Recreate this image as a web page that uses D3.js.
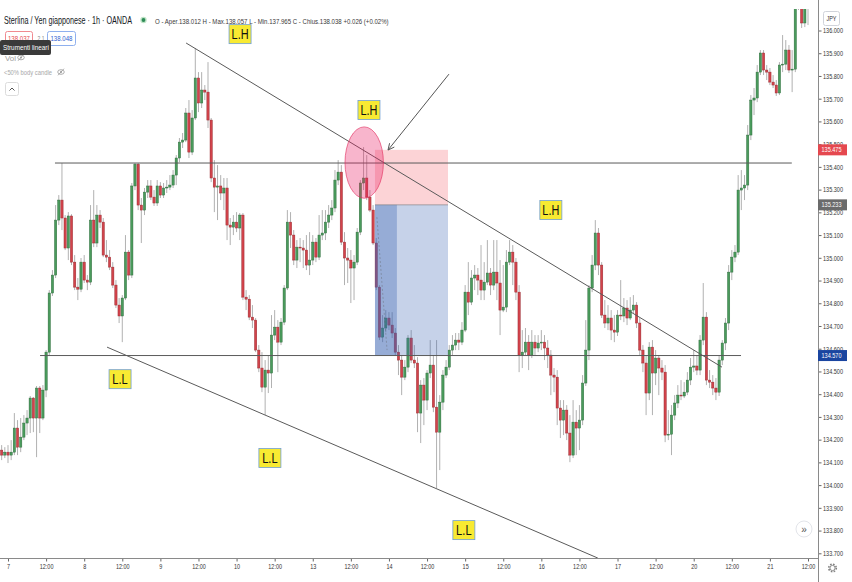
<!DOCTYPE html>
<html><head><meta charset="utf-8">
<script src="https://cdn.jsdelivr.net/npm/d3@7"></script>
<style>
html,body{margin:0;padding:0;background:#fff;}
svg{display:block;}
</style></head><body>
<svg id="c" width="852" height="582"></svg>
<script>
// ---------------- DATA (GBP/JPY 1h, [open, high, low, close]) ----------------
const firstIndex = -2; // first bar = day 6, 22:00
const day06 = [[134.154,134.176,134.110,134.132],[134.132,134.167,134.119,134.145]];
const day07 = [
[134.145,134.176,134.097,134.132],[134.132,134.198,134.110,134.145],[134.145,134.317,134.132,134.251],[134.251,134.286,134.132,134.167],
[134.167,134.295,134.145,134.211],[134.211,134.308,134.198,134.273],[134.273,134.330,134.220,134.295],[134.295,134.392,134.229,134.383],
[134.383,134.387,134.233,134.295],[134.295,134.436,134.123,134.427],[134.427,134.436,134.229,134.295],[134.295,134.440,134.286,134.418],
[134.418,134.594,134.387,134.585],[134.585,134.858,134.572,134.845],[134.845,134.946,134.832,134.924],[134.924,135.232,134.911,135.166],
[135.166,135.276,135.144,135.254],[135.254,135.417,135.122,135.175],[135.175,135.188,135.034,135.043],[135.043,135.201,134.990,135.184],
[135.184,135.192,134.968,134.981],[134.981,135.012,134.858,134.871],[134.871,134.911,134.814,134.862],[134.862,134.999,134.849,134.981]];
const day08 = [
[134.981,135.012,134.889,134.902],[134.902,134.924,134.858,134.893],[134.893,135.232,134.880,135.166],[135.166,135.298,135.047,135.065],
[135.065,135.232,135.047,135.188],[135.188,135.210,135.131,135.157],[135.157,135.175,135.003,135.012],[135.012,135.078,134.981,135.003],
[135.003,135.034,134.946,134.959],[134.959,134.981,134.867,134.880],[134.880,134.902,134.779,134.792],[134.792,134.823,134.713,134.744],
[134.744,134.836,134.629,134.823],[134.823,135.100,134.814,135.025],[135.025,135.034,134.902,134.924],[134.924,135.329,134.911,135.316],
[135.316,135.417,135.298,135.412],[135.412,135.417,135.210,135.232],[135.232,135.263,135.065,135.210],[135.210,135.307,135.188,135.289],
[135.289,135.342,135.263,135.316],[135.316,135.342,135.254,135.267],[135.267,135.298,135.228,135.241],[135.241,135.342,135.228,135.316]];
const day09 = [
[135.316,135.333,135.263,135.276],[135.276,135.329,135.263,135.307],[135.307,135.342,135.285,135.311],[135.311,135.364,135.298,135.320],
[135.320,135.386,135.307,135.364],[135.364,135.452,135.320,135.439],[135.439,135.527,135.421,135.509],[135.509,135.549,135.483,135.518],
[135.518,135.659,135.509,135.637],[135.637,135.694,135.439,135.465],[135.465,135.650,135.452,135.615],[135.615,135.923,135.606,135.791],
[135.791,135.817,135.641,135.681],[135.681,135.817,135.659,135.738],[135.738,135.760,135.694,135.729],[135.729,135.861,135.571,135.606],
[135.606,135.615,135.333,135.351],[135.351,135.430,135.201,135.311],[135.311,135.408,135.166,135.316],[135.316,135.364,135.254,135.285],
[135.285,135.351,135.210,135.307],[135.307,135.351,135.078,135.144],[135.144,135.175,135.056,135.135],[135.135,135.188,135.100,135.157]];
const day10 = [
[135.157,135.201,135.113,135.131],[135.131,135.197,135.078,135.188],[135.188,135.197,134.814,134.827],[134.827,134.858,134.770,134.818],
[134.818,134.836,134.726,134.739],[134.739,134.792,134.691,134.726],[134.726,134.735,134.585,134.594],[134.594,134.616,134.497,134.515],
[134.515,134.585,134.409,134.431],[134.431,134.550,134.308,134.506],[134.506,134.572,134.405,134.493],[134.493,134.748,134.427,134.660],
[134.660,134.770,134.638,134.695],[134.695,134.726,134.497,134.629],[134.629,134.735,134.616,134.717],[134.717,134.880,134.704,134.867],
[134.867,135.210,134.858,135.157],[135.157,135.201,135.043,135.100],[135.100,135.122,134.968,134.990],[134.990,135.078,134.955,135.047],
[135.047,135.087,134.981,135.043],[135.043,135.078,134.955,135.034],[135.034,135.100,134.946,134.968],[134.968,135.113,134.924,134.990]];
const day13 = [
[134.990,135.100,134.968,135.069],[135.069,135.087,134.981,135.003],[135.003,135.188,134.990,135.100],[135.100,135.210,135.078,135.109],
[135.109,135.210,135.078,135.157],[135.157,135.232,135.131,135.188],[135.188,135.254,135.166,135.219],[135.219,135.386,135.201,135.342],
[135.342,135.430,135.320,135.377],[135.377,135.408,135.056,135.069],[135.069,135.113,134.880,134.999],[134.999,135.043,134.889,134.990],
[134.990,135.034,134.801,134.955],[134.955,135.012,134.814,134.981],[134.981,135.131,134.968,135.113],[135.113,135.342,135.100,135.329],
[135.329,135.487,135.298,135.351],[135.351,135.452,135.254,135.267],[135.267,135.298,135.201,135.210],[135.210,135.232,135.056,135.065],
[135.065,135.087,134.858,134.871],[134.871,134.880,134.638,134.651],[134.651,134.748,134.629,134.691],[134.691,134.770,134.673,134.735]];
const day14 = [
[134.735,134.761,134.682,134.704],[134.704,134.761,134.647,134.669],[134.669,134.691,134.568,134.585],[134.585,134.616,134.484,134.550],
[134.550,134.572,134.396,134.475],[134.475,134.550,134.462,134.519],[134.519,134.660,134.497,134.647],[134.647,134.682,134.537,134.550],
[134.550,134.616,134.515,134.537],[134.537,134.563,134.233,134.317],[134.317,134.462,134.185,134.440],[134.440,134.471,134.264,134.374],
[134.374,134.506,134.330,134.493],[134.493,134.638,134.471,134.528],[134.528,134.572,134.321,134.343],[134.343,134.638,133.987,134.233],
[134.233,134.396,134.066,134.365],[134.365,134.506,134.330,134.484],[134.484,134.550,134.471,134.519],[134.519,134.616,134.506,134.594],
[134.594,134.660,134.572,134.616],[134.616,134.669,134.594,134.638],[134.638,134.669,134.594,134.629],[134.629,134.717,134.616,134.682]];
const day15 = [
[134.682,134.880,134.673,134.849],[134.849,134.981,134.748,134.805],[134.805,134.946,134.792,134.911],[134.911,134.968,134.858,134.924],
[134.924,134.955,134.836,134.902],[134.902,135.056,134.814,134.858],[134.858,134.981,134.814,134.893],[134.893,135.078,134.880,134.933],
[134.933,134.955,134.836,134.880],[134.880,135.078,134.858,134.937],[134.937,135.078,134.814,134.889],[134.889,134.990,134.660,134.770],
[134.770,134.968,134.761,134.783],[134.783,135.034,134.761,134.981],[134.981,135.078,134.968,135.025],[135.025,135.056,134.880,134.981],
[134.981,134.999,134.814,134.849],[134.849,134.880,134.497,134.572],[134.572,134.682,134.515,134.585],[134.585,134.691,134.572,134.629],
[134.629,134.660,134.506,134.572],[134.572,134.682,134.559,134.629],[134.629,134.660,134.572,134.603],[134.603,134.660,134.585,134.625]];
const day16 = [
[134.625,134.682,134.594,134.629],[134.629,134.660,134.550,134.603],[134.603,134.638,134.515,134.572],[134.572,134.594,134.396,134.484],
[134.484,134.515,134.409,134.475],[134.475,134.506,134.264,134.339],[134.339,134.374,134.207,134.286],[134.286,134.374,134.220,134.330],
[134.330,134.352,134.198,134.229],[134.229,134.308,134.101,134.132],[134.132,134.374,134.119,134.277],[134.277,134.330,134.132,134.251],
[134.251,134.352,134.154,134.286],[134.286,134.484,134.264,134.449],[134.449,134.726,134.436,134.594],[134.594,134.880,134.550,134.867],
[134.867,135.012,134.849,134.968],[134.968,135.166,134.946,135.109],[135.109,135.131,134.924,134.968],[134.968,134.981,134.735,134.748],
[134.748,134.814,134.691,134.713],[134.713,134.792,134.682,134.735],[134.735,134.770,134.638,134.682],[134.682,134.748,134.629,134.673]];
const day17 = [
[134.673,134.770,134.656,134.748],[134.748,134.902,134.726,134.744],[134.744,134.823,134.717,134.779],[134.779,134.814,134.704,134.735],
[134.735,134.827,134.726,134.770],[134.770,134.836,134.757,134.792],[134.792,134.805,134.691,134.713],[134.713,134.735,134.572,134.594],
[134.594,134.616,134.497,134.537],[134.537,134.572,134.308,134.405],[134.405,134.629,134.374,134.607],[134.607,134.638,134.308,134.493],
[134.493,134.594,134.440,134.559],[134.559,134.572,134.396,134.515],[134.515,134.550,134.462,134.497],[134.497,134.528,134.189,134.220],
[134.220,134.330,134.198,134.224],[134.224,134.352,134.132,134.308],[134.308,134.396,134.286,134.361],[134.361,134.440,134.339,134.396],
[134.396,134.462,134.374,134.392],[134.392,134.453,134.383,134.409],[134.409,134.497,134.396,134.462],[134.462,134.559,134.440,134.519]];
const day20 = [
[134.519,134.594,134.497,134.524],[134.524,134.572,134.484,134.506],[134.506,134.660,134.484,134.638],[134.638,134.889,134.616,134.739],
[134.739,134.761,134.440,134.462],[134.462,134.506,134.427,134.453],[134.453,134.484,134.396,134.427],[134.427,134.471,134.374,134.409],
[134.409,134.572,134.392,134.550],[134.550,134.638,134.528,134.625],[134.625,134.735,134.594,134.713],[134.713,134.968,134.682,134.937],
[134.937,135.034,134.902,135.003],[135.003,135.056,134.981,135.025],[135.025,135.364,135.012,135.298],[135.298,135.386,135.210,135.307],
[135.307,135.364,135.254,135.320],[135.320,135.584,135.298,135.540],[135.540,135.716,135.518,135.694],[135.694,135.747,135.628,135.703],
[135.703,135.848,135.685,135.817],[135.817,135.914,135.804,135.901],[135.901,135.914,135.804,135.826],[135.826,135.848,135.782,135.817]];
const day21 = [
[135.817,135.835,135.760,135.773],[135.773,135.804,135.747,135.760],[135.760,135.782,135.712,135.725],[135.725,135.861,135.716,135.848],
[135.848,135.980,135.817,135.852],[135.852,135.958,135.826,135.914],[135.914,135.936,135.813,135.826],[135.826,135.914,135.729,135.830],
[135.830,136.200,135.817,136.134],[136.134,136.222,136.090,136.178],[136.178,136.200,136.011,136.033],[136.033,136.156,136.015,136.112],
[136.112,136.200,136.024,136.156]];

const xTickLabels = ["7","12:00","8","12:00","9","12:00","10","12:00","13","12:00","14","12:00","15","12:00","16","12:00","17","12:00","20","12:00","21","12:00"];
const yTickValues = [133.7,133.8,133.9,134.0,134.1,134.2,134.3,134.4,134.5,134.6,134.7,134.8,134.9,135.0,135.1,135.2,135.3,135.4,135.5,135.6,135.7,135.8,135.9,136.0];

// drawings, in [bar index, price]
const levelUpper = {from:14.8, to:246.9, price:135.417};
const levelLower = {from:10.1, to:230.9, price:134.570};
const trendUpper = [[56.1,135.945],[224.9,134.519]];
const trendLower = [[31.2,134.607],[185.8,133.679]];
const positionBars = [115.6, 122.5, 138.6];          // start, filled-until, end
const positionLevels = [135.475, 135.233, 134.570];   // stop, entry, target
const positionPath = [[116.2,135.179],[119.4,134.594]];
const ellipseCenter = [112.2, 135.419];
const ellipseRadius = [6.05, 0.157];                  // bars, price
const arrowLine = [[138.9,135.808],[119.7,135.474]];
const lhLabels = [[73.1,135.984],[113.7,135.650],[171.0,135.210]];
const llLabels = [[35.3,134.466],[82.5,134.119],[143.6,133.802]];
const priceTags = [135.475, 135.233, 134.570];

const headerTitle = "Sterlina / Yen giapponese · 1h · OANDA";
const headerOHLC = "O - Aper.138.012  H - Max.138.057  L - Min.137.965  C - Chius.138.038  +0.026 (+0.02%)";
const bidAsk = ["138.037","2.1","138.048"];

// ---------------- DRAW ----------------
const candles = [].concat(day06,day07,day08,day09,day10,day13,day14,day15,day16,day17,day20,day21);
const bars = candles.map((d,k)=>({i:k+firstIndex,o:d[0],h:d[1],l:d[2],c:d[3]}));

const FONT = "'Liberation Sans', Arial, Roboto, sans-serif";
const svg = d3.select('#c');
const plotRight = 818, plotBottom = 558, plotTop = 9;
const x = d3.scaleLinear().domain([0,252]).range([8,808]);
const y = d3.scaleLinear().domain([133.7,136.0]).range([553.3,30.5]);

// horizontal squeeze of text around its anchor x: to a width (px) or by a ratio
function squeezeTo(sel, width){ scaleText(sel, w => width / w); }
function squeezeBy(sel, ratio){ scaleText(sel, () => ratio); }
function scaleText(sel, f){
  sel.each(function(){
    const t = d3.select(this);
    const w = this.getComputedTextLength();
    if (!w) return;
    const ax = +t.attr('x') || 0;
    const s = f(w);
    t.attr('transform', `translate(${ax},0) scale(${s},1) translate(${-ax},0)`);
  });
}

svg.append('rect').attr('width',852).attr('height',582).attr('fill','#fff');
const defs = svg.append('defs');
defs.append('clipPath').attr('id','plot').append('rect')
  .attr('x',0).attr('y',plotTop).attr('width',plotRight).attr('height',plotBottom-plotTop);

// candles
const gC = svg.append('g').attr('clip-path','url(#plot)');
gC.selectAll('line.w').data(bars).join('line').attr('class','w')
  .attr('x1',d=>x(d.i)).attr('x2',d=>x(d.i))
  .attr('y1',d=>y(d.h)).attr('y2',d=>y(d.l))
  .attr('stroke','#a8a8a8').attr('stroke-width',0.9);
gC.selectAll('rect.b').data(bars).join('rect').attr('class','b')
  .attr('x',d=>x(d.i)-1.15).attr('width',2.3)
  .attr('y',d=>y(Math.max(d.o,d.c)))
  .attr('height',d=>Math.max(0.9,Math.abs(y(d.o)-y(d.c))))
  .attr('fill',d=>d.c>=d.o?'#4a9b5c':'#d2434b')
  .attr('stroke',d=>d.c>=d.o?'#2e6a3c':'#962a30').attr('stroke-width',0.45);

// drawings
const gD = svg.append('g').attr('clip-path','url(#plot)');
const [pS,pF,pE] = positionBars, [lvStop,lvEntry,lvTarget] = positionLevels;
gD.append('rect').attr('x',x(pS)).attr('width',x(pE)-x(pS))
  .attr('y',y(lvStop)).attr('height',y(lvEntry)-y(lvStop)).attr('fill','rgba(242,54,69,0.22)');
gD.append('rect').attr('x',x(pS)).attr('width',x(pE)-x(pS))
  .attr('y',y(lvEntry)).attr('height',y(lvTarget)-y(lvEntry)).attr('fill','rgba(60,100,180,0.29)');
gD.append('rect').attr('x',x(pS)).attr('width',x(pF)-x(pS))
  .attr('y',y(lvEntry)).attr('height',y(lvTarget)-y(lvEntry)).attr('fill','rgba(60,100,180,0.34)');
gD.append('line').attr('x1',x(pS)).attr('x2',x(pE)).attr('y1',y(lvEntry)).attr('y2',y(lvEntry))
  .attr('stroke','rgba(120,120,120,0.6)').attr('stroke-width',1);
gD.append('line').attr('x1',x(positionPath[0][0])).attr('y1',y(positionPath[0][1]))
  .attr('x2',x(positionPath[1][0])).attr('y2',y(positionPath[1][1]))
  .attr('stroke','rgba(90,90,90,0.45)').attr('stroke-dasharray','2 2').attr('stroke-width',0.8);

[levelUpper, levelLower].forEach(l=>{
  gD.append('line').attr('x1',x(l.from)).attr('x2',x(l.to)).attr('y1',y(l.price)).attr('y2',y(l.price))
    .attr('stroke','#5a5a5a').attr('stroke-width',1);
});
[trendUpper, trendLower].forEach(t=>{
  gD.append('line').attr('x1',x(t[0][0])).attr('y1',y(t[0][1])).attr('x2',x(t[1][0])).attr('y2',y(t[1][1]))
    .attr('stroke','#5a5a5a').attr('stroke-width',1);
});
gD.append('ellipse').attr('cx',x(ellipseCenter[0])).attr('cy',y(ellipseCenter[1]))
  .attr('rx',x(ellipseCenter[0]+ellipseRadius[0])-x(ellipseCenter[0]))
  .attr('ry',y(ellipseCenter[1]-ellipseRadius[1])-y(ellipseCenter[1]))
  .attr('fill','rgba(233,30,99,0.33)').attr('stroke','rgba(225,40,90,0.6)').attr('stroke-width',1);
{
  const x1=x(arrowLine[0][0]), y1=y(arrowLine[0][1]), x2=x(arrowLine[1][0]), y2=y(arrowLine[1][1]);
  gD.append('line').attr('x1',x1).attr('y1',y1).attr('x2',x2).attr('y2',y2).attr('stroke','#555').attr('stroke-width',1);
  const a = Math.atan2(y1-y2, x1-x2), L = 7, s = 0.45;
  gD.append('path').attr('d',`M${x2+L*Math.cos(a+s)},${y2+L*Math.sin(a+s)}L${x2},${y2}L${x2+L*Math.cos(a-s)},${y2+L*Math.sin(a-s)}`)
    .attr('fill','none').attr('stroke','#555').attr('stroke-width',1);
}
function tagBox(list, txt, tl){
  list.forEach(p=>{
    const cx=x(p[0]), cy=y(p[1]);
    gD.append('rect').attr('x',cx-11).attr('y',cy-9.5).attr('width',22).attr('height',19)
      .attr('fill','#f8ea32').attr('stroke','#6f9fd3').attr('stroke-width',0.8);
    const t = gD.append('text').attr('x',cx).attr('y',cy+5).attr('text-anchor','middle')
      .attr('font-family',FONT).attr('font-size',14).attr('fill','#111').text(txt);
    squeezeTo(t, tl);
  });
}
tagBox(lhLabels,'L.H',17);
tagBox(llLabels,'L.L',15.5);

// axes
svg.append('rect').attr('x',plotRight).attr('y',0).attr('width',852-plotRight).attr('height',582).attr('fill','#fff');
const yAxis = d3.axisRight(y).tickValues(yTickValues).tickFormat(d3.format('.3f')).tickSize(3.5).tickPadding(1.5);
const gy = svg.append('g').attr('transform',`translate(${plotRight},0)`).call(yAxis);
gy.select('.domain').remove();
gy.selectAll('line').attr('stroke','#666');
gy.selectAll('text').attr('font-family',FONT).attr('font-size',7.2).attr('fill','#333');
squeezeTo(gy.selectAll('text'), 20);

const xTickIndex = xTickLabels.map((_,k)=>k*12);
const xAxis = d3.axisBottom(x).tickValues(xTickIndex).tickFormat((d,k)=>xTickLabels[k]).tickSize(3.5).tickPadding(2);
const gx = svg.append('g').attr('transform',`translate(0,${plotBottom})`).call(xAxis);
gx.select('.domain').remove();
gx.selectAll('line').attr('stroke','#666');
gx.selectAll('text').attr('font-family',FONT).attr('font-size',7.6).attr('fill','#333');
squeezeBy(gx.selectAll('text'), 0.72);

svg.append('line').attr('x1',0).attr('x2',plotRight).attr('y1',plotBottom+0.5).attr('y2',plotBottom+0.5).attr('stroke','#8a8a8a');
svg.append('line').attr('x1',plotRight+0.5).attr('x2',plotRight+0.5).attr('y1',0).attr('y2',582).attr('stroke','#8a8a8a');

// price tags
const tagColors = ['#e5484f','#6b6b6b','#1a45a0'];
priceTags.forEach((v,k)=>{
  svg.append('rect').attr('x',plotRight).attr('y',y(v)-5.5).attr('width',29).attr('height',11).attr('fill',tagColors[k]);
  const t = svg.append('text').attr('x',plotRight+3.5).attr('y',y(v)+2.6).attr('font-family',FONT).attr('font-size',7.2)
    .attr('fill','#fff').text(d3.format('.3f')(v));
  squeezeTo(t, 20);
});
svg.append('rect').attr('x',823.5).attr('y',11.5).attr('width',16).attr('height',14).attr('rx',2).attr('fill','#fff').attr('stroke','#d0d3da');
squeezeTo(svg.append('text').attr('x',831.5).attr('y',21).attr('text-anchor','middle').attr('font-family',FONT).attr('font-size',7)
  .attr('fill','#333').text('JPY'), 10);
svg.append('circle').attr('cx',804).attr('cy',529).attr('r',8).attr('fill','#fff').attr('stroke','#e3e5ea');
svg.append('text').attr('x',804).attr('y',532.5).attr('text-anchor','middle').attr('font-family',FONT).attr('font-size',10).attr('fill','#555').text('»');
svg.append('circle').attr('cx',832.5).attr('cy',568).attr('r',3.8).attr('fill','none').attr('stroke','#808080').attr('stroke-width',1.6).attr('stroke-dasharray','1.6 1.4');
svg.append('circle').attr('cx',832.5).attr('cy',568).attr('r',2.6).attr('fill','#fff').attr('stroke','#808080').attr('stroke-width',0.9);

// header
const hd = svg.append('g').attr('font-family',FONT);
squeezeTo(hd.append('text').attr('x',4).attr('y',24).attr('font-size',10.5).attr('fill','#131722').text(headerTitle), 128);
hd.append('circle').attr('cx',143.5).attr('cy',20).attr('r',3.2).attr('fill','#bfe3c6');
hd.append('circle').attr('cx',143.5).attr('cy',20).attr('r',1.9).attr('fill','#2e8b57');
squeezeTo(hd.append('text').attr('x',155).attr('y',24).attr('font-size',8).attr('fill','#3a3a3a').text(headerOHLC), 234);
hd.append('rect').attr('x',5.5).attr('y',31.5).attr('width',27).attr('height',14).attr('rx',2).attr('fill','#fff').attr('stroke','#f08a90');
squeezeTo(hd.append('text').attr('x',8).attr('y',41.5).attr('font-size',8).attr('fill','#e5484f').text(bidAsk[0]), 22);
squeezeTo(hd.append('text').attr('x',37.5).attr('y',41.5).attr('font-size',7.5).attr('fill','#888').text(bidAsk[1]), 7);
hd.append('rect').attr('x',47.5).attr('y',31.5).attr('width',28).attr('height',14).attr('rx',2).attr('fill','#fff').attr('stroke','#8fb0ee');
squeezeTo(hd.append('text').attr('x',50.5).attr('y',41.5).attr('font-size',8).attr('fill','#2f5fd0').text(bidAsk[2]), 22);
squeezeTo(hd.append('text').attr('x',5).attr('y',61).attr('font-size',7.5).attr('fill','#a0a0a0').text('Vol'), 11);
function eyeOff(cx,cy){
  hd.append('ellipse').attr('cx',cx).attr('cy',cy).attr('rx',3.3).attr('ry',2.3).attr('fill','none').attr('stroke','#999').attr('stroke-width',0.8);
  hd.append('circle').attr('cx',cx).attr('cy',cy).attr('r',1).attr('fill','#999');
  hd.append('line').attr('x1',cx-3).attr('y1',cy+3.3).attr('x2',cx+3).attr('y2',cy-3.3).attr('stroke','#999').attr('stroke-width',0.8);
}
eyeOff(21,57.5);
hd.append('rect').attr('x',0).attr('y',40).attr('width',51).attr('height',15).attr('rx',2).attr('fill','#3a3a3a');
squeezeTo(hd.append('text').attr('x',3).attr('y',50.5).attr('font-size',7.5).attr('fill','#fff').text('Strumenti lineari'), 46);
squeezeTo(hd.append('text').attr('x',4).attr('y',75).attr('font-size',8).attr('fill','#a8a8a8').text('<50% body candle'), 48);
eyeOff(61,72);
hd.append('rect').attr('x',5.5).attr('y',82.5).attr('width',13).attr('height',13).attr('rx',2).attr('fill','#fff').attr('stroke','#dcdcdc');
hd.append('path').attr('d','M9.5,90.5L12,88L14.5,90.5').attr('fill','none').attr('stroke','#555').attr('stroke-width',1);
</script>
</body></html>
